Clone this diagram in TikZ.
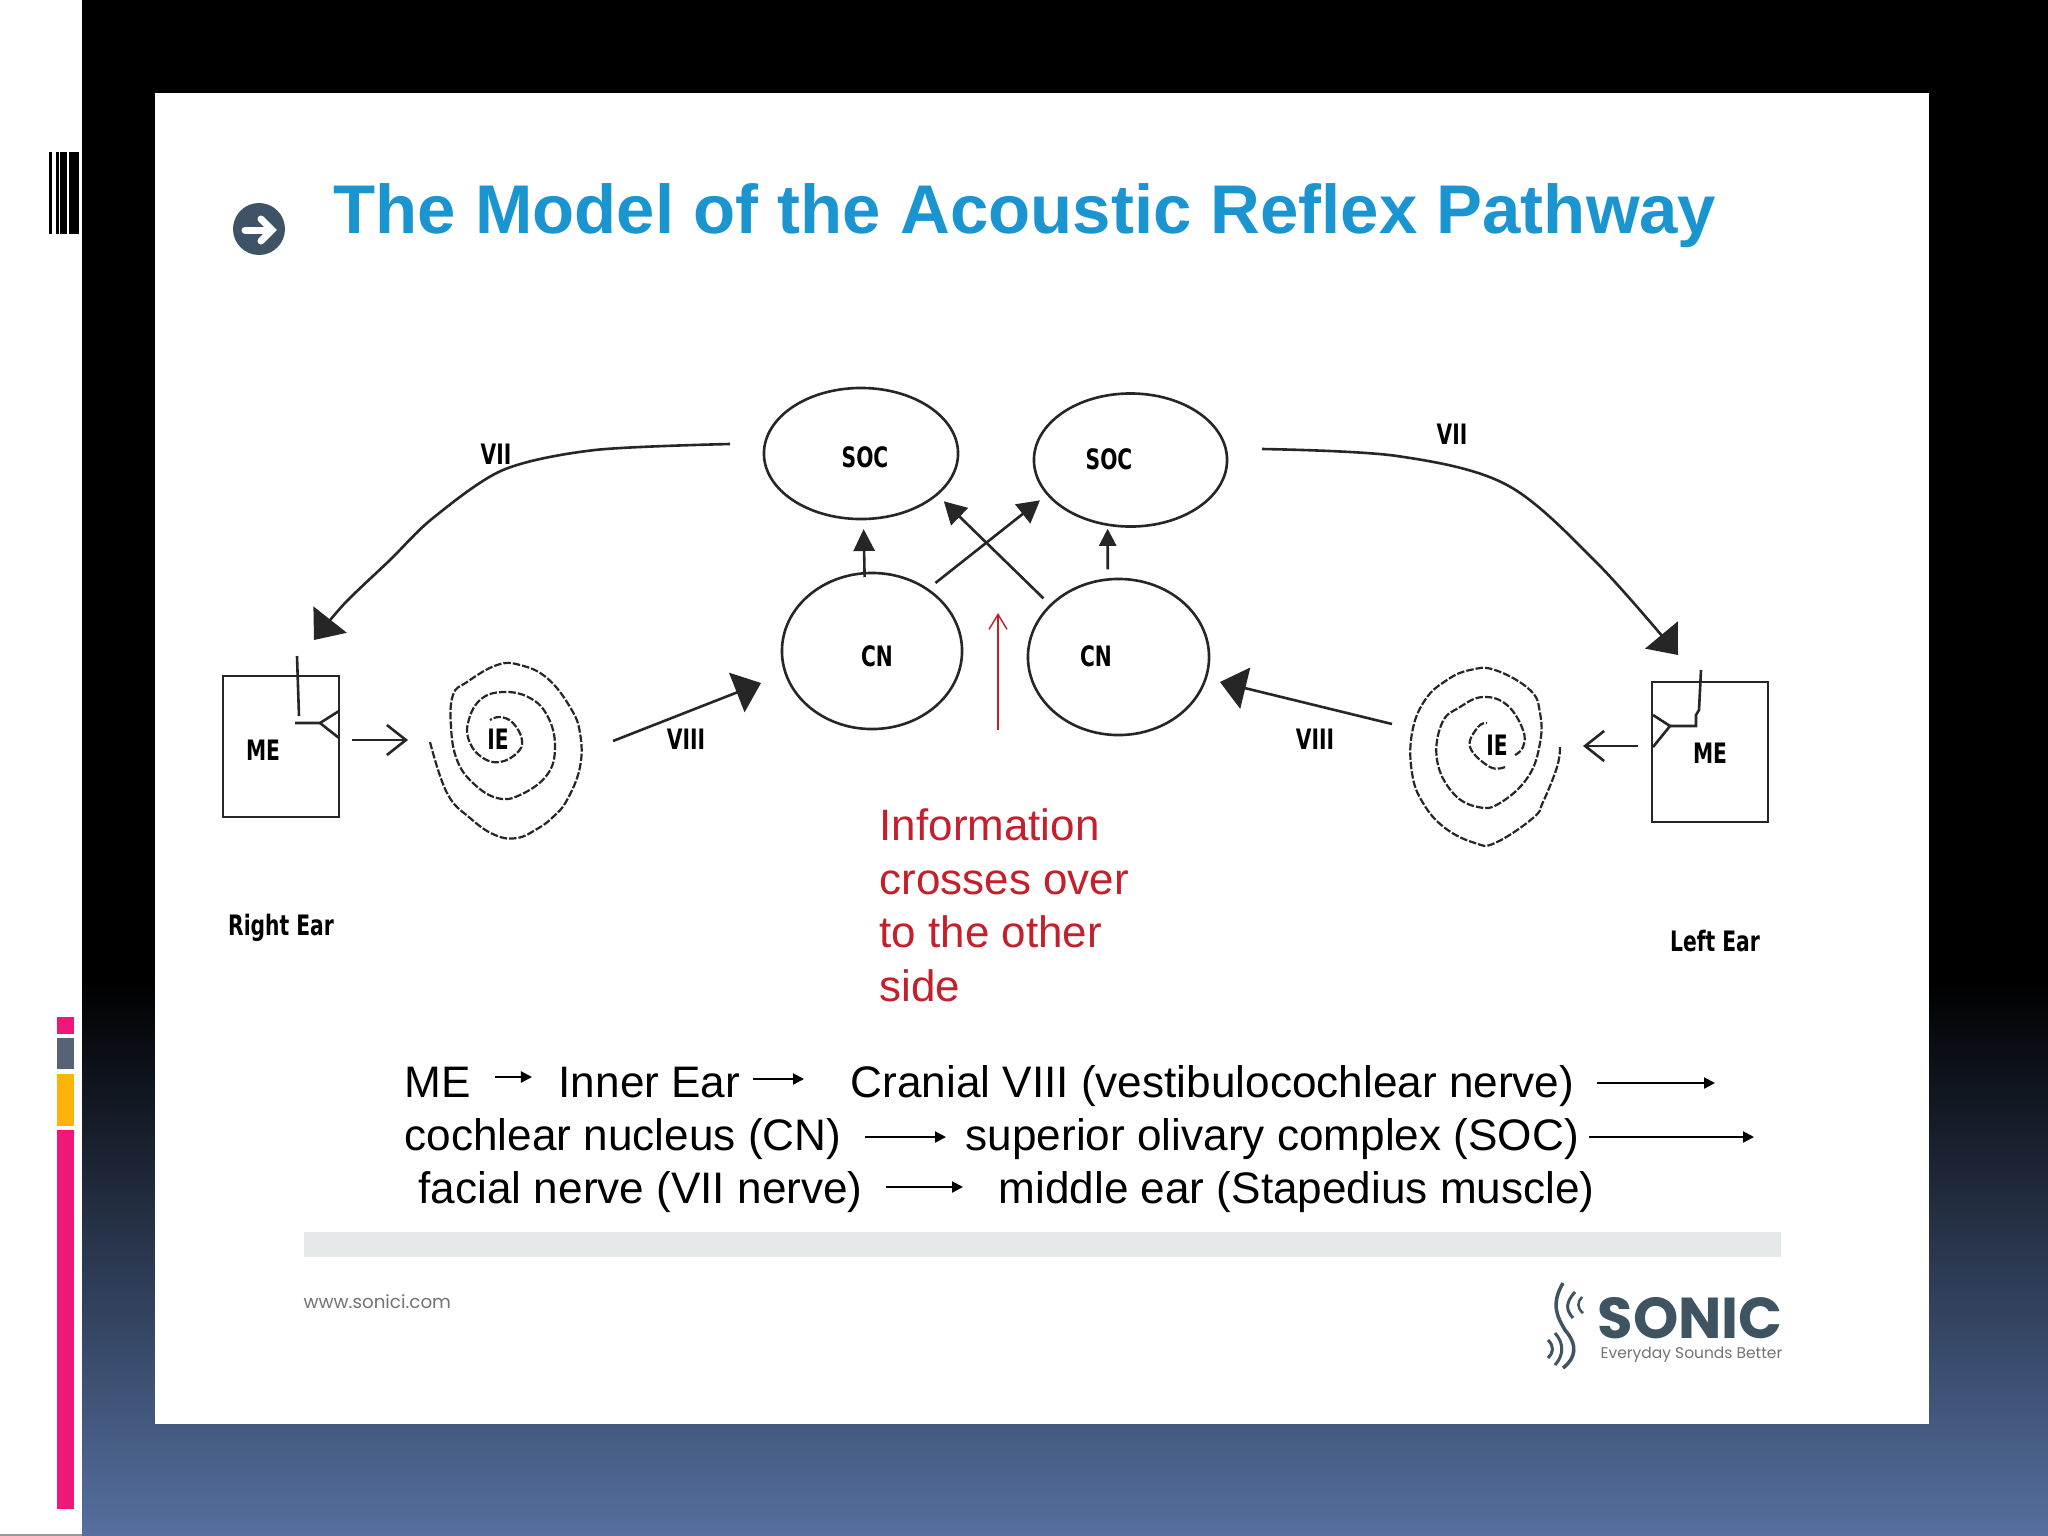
\documentclass[tikz,border=0pt]{standalone}
\usepackage{fontspec}
\usetikzlibrary{arrows.meta,shapes.geometric}
\setmainfont{Liberation Sans}
\newfontfamily\blockfont[FakeStretch=0.72]{DejaVu Sans}
\newfontfamily\logofont{Poppins}
\definecolor{bgblue}{HTML}{55709F}
\definecolor{titleblue}{HTML}{1B95D0}
\definecolor{slate}{HTML}{3F5366}
\definecolor{logoink}{HTML}{3E5460}
\definecolor{stripgrey}{HTML}{566276}
\definecolor{stripamber}{HTML}{FDB40A}
\definecolor{strippink}{HTML}{EE1879}
\definecolor{redtext}{HTML}{C4202C}
\definecolor{barfill}{HTML}{E6E9E9}
\tikzset{
  line/.style={line width=0.026cm,black!85},
  spiral/.style={line width=0.022cm,black!85,dash pattern=on 0.075cm off 0.02cm},
  bighead/.style={-{Triangle[length=2.6mm,width=4.2mm]}},
  crosshead/.style={-{Triangle[length=2.2mm,width=2.4mm]}},
  upbig/.style={-{Triangle[length=2.2mm,width=2.1mm]}},
  upsmall/.style={-{Triangle[length=1.7mm,width=1.7mm]}},
  barb/.style={-{Straight Barb[length=1.9mm,width=3mm]}},
  textarrow/.style={line width=0.022cm,black,-{Triangle[length=1.1mm,width=1.1mm]}},
  oval/.style={draw,ellipse,line width=0.026cm,black!85,inner sep=0pt,outer sep=0.1cm},
  box/.style={draw,rectangle,line width=0.028cm,black!85,inner sep=0pt,outer sep=0pt},
  tag/.style={font=\blockfont\bfseries\fontsize{8}{8}\selectfont,inner sep=0pt},
  body/.style={font=\fontsize{12.55}{15.25}\selectfont,anchor=base west,inner sep=0pt},
}
\begin{document}
\begin{tikzpicture}[x=0.01cm,y=-0.01cm]
\useasboundingbox (0,0) rectangle (2048,1536);
% slide frame
\fill[white] (0,0) rectangle (2048,1536);
\fill[black] (82,0) rectangle (2048,980);
\shade[top color=black,bottom color=bgblue] (82,980) rectangle (2048,1536);
\fill[white] (155,93) rectangle (1929,1424);
\fill[black!40] (0,1534) rectangle (82,1536);
% barcode and colour strips
\fill[black] (49,152) rectangle (52,234);
\fill[black] (56,152) rectangle (59,234);
\fill[black] (60,152) rectangle (67,234);
\fill[black] (69,152) rectangle (79,234);
\fill[strippink] (57,1017) rectangle (74,1034);
\fill[stripgrey] (57,1038) rectangle (74,1069);
\fill[stripamber] (57,1074) rectangle (74,1126);
\fill[strippink] (57,1130) rectangle (74,1509);
% title
\fill[slate] (259,229) circle (26);
\draw[white,line width=0.07cm,line cap=round] (245,230) -- (270,230);
\draw[white,line width=0.07cm,line cap=round] (261,219) -- (272,230) -- (261,241);
\node[anchor=base west,inner sep=0pt,text=titleblue,font=\bfseries\fontsize{19.6}{24}\selectfont] (title) at (333,233) {The Model of the Acoustic Reflex Pathway};

% centre ovals
\node[oval,minimum width=1.94cm,minimum height=1.31cm] (socl) at (861,453.5) {};
\node[oval,minimum width=1.93cm,minimum height=1.33cm] (socr) at (1130.5,460) {};
\node[oval,minimum width=1.80cm,minimum height=1.56cm] (cnl) at (872,651) {};
\node[oval,minimum width=1.81cm,minimum height=1.56cm] (cnr) at (1118.5,657) {};
\node[tag] (soclt) at (865,457) {SOC};
\node[tag] (socrt) at (1109,459) {SOC};
\node[tag] (cnlt) at (877,656) {CN};
\node[tag] (cnrt) at (1096,656) {CN};
\draw[line,upbig,shorten <=-0.14cm] (cnl.95) -- (socl.272);
\draw[line,upsmall,shorten >=-0.06cm] (cnr.97) -- (socr.253.5);
\draw[line,crosshead] (cnl.47) -- (socr.204);
\draw[line,crosshead] (cnr.142) -- (socl.330);
% red note
\coordinate (reda) at (998,730);
\coordinate (redb) at (998,613);
\draw[redtext,line width=0.014cm,-{Straight Barb[length=1.5mm,width=1.8mm]}] (reda) -- (redb);
\node[anchor=north west,inner sep=0pt,align=left,text=redtext,font=\fontsize{12.5}{15.25}\selectfont] (note) at (879,808) {Information\\crosses over\\to the other\\side};

% right ear
\node[box,minimum width=1.16cm,minimum height=1.41cm] (mer) at (281,746.5) {};
\node[tag] (mert) at (263,750) {ME};
\draw[line] (297,656) -- (299,716);
\draw[line] (295,723) -- (320,723) -- (339,711);
\draw[line] (320,723) -- (339,738);
\coordinate (mera) at (352,740);
\coordinate (merb) at (408,740);
\draw[line,barb] (mera) -- (merb);
\draw[spiral] plot[smooth,tension=0.7] coordinates {(430,742) (447,793) (470,818) (495,835) (517,838) (537,829) (553,817) (567,800) (580,767) (580,733) (570,707) (547,678) (520,665) (497,665) (467,682) (453,695) (451,727) (457,760) (473,783) (497,798) (520,795) (547,775) (555,747) (548,717) (530,698) (503,692) (480,700) (468,723) (470,743) (483,758) (500,762) (517,753) (522,740) (513,723) (500,717) (490,720)};
\node[tag] (ielt) at (498,739) {IE};
\node[tag] (rightear) at (281,928) {Right Ear};

% left ear
\node[box,minimum width=1.16cm,minimum height=1.40cm] (mel) at (1710,752) {};
\node[tag] (melt) at (1710,753) {ME};
\draw[line] (1701,670) -- (1699,710) -- (1696,715) -- (1696,726) -- (1670,726);
\draw[line] (1653,715) -- (1670,726) -- (1653,747);
\coordinate (mela) at (1638,746);
\coordinate (melb) at (1583,746);
\draw[line,barb] (mela) -- (melb);
\draw[spiral] plot[smooth,tension=0.7] coordinates {(1560,747) (1557,767) (1543,802) (1533,818) (1495,843) (1475,843) (1445,828) (1423,803) (1412,773) (1412,733) (1425,700) (1447,680) (1470,670) (1495,670) (1530,690) (1540,713) (1540,743) (1528,777) (1500,803) (1478,807) (1453,793) (1437,760) (1442,723) (1460,707) (1483,697) (1507,705) (1523,730) (1523,747) (1515,755)};
\draw[spiral] plot[smooth,tension=0.7] coordinates {(1505,767) (1490,767) (1470,747) (1478,727) (1487,723)};
\node[tag] (iert) at (1497,745) {IE};
\node[tag] (leftear) at (1715,941) {Left Ear};

% nerves
\coordinate (viila) at (730,444);
\coordinate (viilb) at (314,640);
\draw[line,bighead] plot[smooth,tension=0.5] coordinates {(viila) (595,450) (503,470) (433,518) (390,560) (345,603) (viilb)};
\node[tag] (viilt) at (496,454) {VII};
\coordinate (viira) at (1262,449);
\coordinate (viirb) at (1678,655);
\draw[line,bighead] plot[smooth,tension=0.55] coordinates {(viira) (1397,456) (1507,485) (1597,563) (viirb)};
\node[tag] (viirt) at (1452,434) {VII};
\coordinate (viiila) at (613,741);
\coordinate (viiilb) at (761,683);
\draw[line,bighead] (viiila) -- (viiilb);
\node[tag] (viiilt) at (686,739) {VIII};
\coordinate (viiira) at (1392,724);
\coordinate (viiirb) at (1220,682);
\draw[line,bighead] (viiira) -- (viiirb);
\node[tag] (viiirt) at (1315,739) {VIII};

% pathway text
\node[body] (t1) at (404,1097) {ME};
\node[body] (t2) at (558,1097) {Inner Ear};
\node[body] (t3) at (850,1097) {Cranial VIII (vestibulocochlear nerve)};
\node[body] (t4) at (404,1150) {cochlear nucleus (CN)};
\node[body] (t5) at (965,1150) {superior olivary complex (SOC)};
\node[body] (t6) at (418,1203) {facial nerve (VII nerve)};
\node[body] (t7) at (998,1203) {middle ear (Stapedius muscle)};
\coordinate (a1a) at (495,1077); \coordinate (a1b) at (532,1077);
\coordinate (a2a) at (753,1079); \coordinate (a2b) at (804,1079);
\coordinate (a3a) at (1597,1083); \coordinate (a3b) at (1715,1083);
\coordinate (a4a) at (865,1137); \coordinate (a4b) at (946,1137);
\coordinate (a5a) at (1589,1137); \coordinate (a5b) at (1754,1137);
\coordinate (a6a) at (886,1187); \coordinate (a6b) at (963,1187);
\draw[textarrow] (a1a) -- (a1b);
\draw[textarrow] (a2a) -- (a2b);
\draw[textarrow] (a3a) -- (a3b);
\draw[textarrow] (a4a) -- (a4b);
\draw[textarrow] (a5a) -- (a5b);
\draw[textarrow] (a6a) -- (a6b);

% footer
\fill[barfill] (304,1232) rectangle (1781,1257);
\node[anchor=base west,inner sep=0pt,text=black!55,font=\logofont\fontsize{5.2}{6}\selectfont] (url) at (303,1308) {www.sonici.com};
\node[anchor=base west,inner sep=0pt,text=logoink,font=\logofont\bfseries\fontsize{16.4}{18}\selectfont] (sonic) at (1597,1338) {SONIC};
\node[anchor=base west,inner sep=0pt,text=black!55,font=\logofont\fontsize{4.4}{6}\selectfont] (tagline) at (1600,1358) {Everyday Sounds Better};
\draw[logoink,line width=0.035cm] (1563,1283) .. controls (1550,1305) and (1558,1318) .. (1565,1330) .. controls (1578,1345) and (1576,1358) .. (1563,1368);
\draw[logoink,line width=0.03cm] (1575,1292) .. controls (1565,1303) and (1566,1310) .. (1573,1318);
\draw[logoink,line width=0.025cm] (1582,1297) .. controls (1577,1302) and (1577,1308) .. (1583,1313);
\draw[logoink,line width=0.03cm] (1555,1333) .. controls (1564,1343) and (1564,1355) .. (1555,1365);
\draw[logoink,line width=0.03cm] (1548,1340) .. controls (1554,1346) and (1554,1352) .. (1548,1358);
\end{tikzpicture}
\end{document}
